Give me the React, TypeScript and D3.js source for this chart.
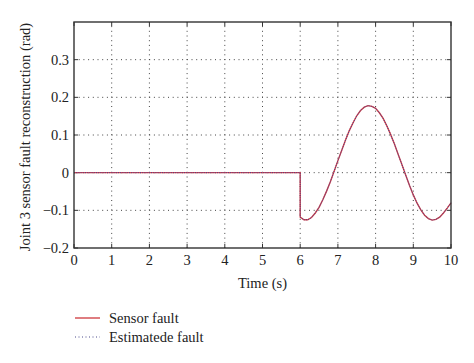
import * as d3 from 'd3';

// time axis (s) and fault values (rad)
const times = [
  0, 6, 6, 6.1, 6.2, 6.3, 6.4, 6.5, 6.6, 6.7, 6.8, 6.9, 7.0, 7.1, 7.2, 7.3, 7.4,
  7.5, 7.6, 7.7, 7.8, 7.9, 8.0, 8.1, 8.2, 8.3, 8.4, 8.5, 8.6, 8.7, 8.8, 8.9,
  9.0, 9.1, 9.2, 9.3, 9.4, 9.5, 9.6, 9.7, 9.8, 9.9, 10.0,
];
const sensorFault = [
  0, 0, -0.118, -0.125, -0.125, -0.119, -0.107, -0.092, -0.072, -0.049, -0.024,
  0.004, 0.032, 0.059, 0.086, 0.111, 0.132, 0.151, 0.165, 0.174, 0.178, 0.176,
  0.171, 0.159, 0.144, 0.124, 0.101, 0.076, 0.048, 0.021, -0.007, -0.034,
  -0.059, -0.081, -0.099, -0.113, -0.122, -0.126, -0.124, -0.118, -0.107,
  -0.094, -0.08,
];
const estimatedFault = [
  0, 0, -0.118, -0.125, -0.125, -0.119, -0.107, -0.092, -0.072, -0.049, -0.024,
  0.004, 0.032, 0.059, 0.086, 0.111, 0.132, 0.151, 0.165, 0.174, 0.178, 0.176,
  0.171, 0.159, 0.144, 0.124, 0.101, 0.076, 0.048, 0.021, -0.007, -0.034,
  -0.059, -0.081, -0.099, -0.113, -0.122, -0.126, -0.124, -0.118, -0.107,
  -0.094, -0.08,
];
const xTicks = [0, 1, 2, 3, 4, 5, 6, 7, 8, 9, 10];
const yTicks = [-0.2, -0.1, 0, 0.1, 0.2, 0.3];
const legendLabels = ['Sensor fault', 'Estimatede fault'];

const width = 474;
const height = 363;
const margin = { top: 22, right: 23, bottom: 115, left: 74 };
const font = '"Liberation Serif", "DejaVu Serif", serif';

export default function App() {
  const x = d3
    .scaleLinear()
    .domain([0, 10])
    .range([margin.left, width - margin.right]);
  const y = d3
    .scaleLinear()
    .domain([-0.2, 0.4])
    .range([height - margin.bottom, margin.top]);

  const line = d3
    .line<number>()
    .x((_, i) => x(times[i]))
    .y((d) => y(d));

  const x0 = x(0);
  const x1 = x(10);
  const y0 = y(-0.2);
  const y1 = y(0.4);
  const tickLen = 4;
  const fmt = (v: number) => (v === 0 ? '0' : d3.format('.1f')(v).replace('-', '\u2212'));

  return (
    <svg
      width={width}
      height={height}
      style={{ position: 'absolute', left: 0, top: 0, background: '#fff' }}
    >
      {/* grid */}
      <g stroke="#444" strokeWidth={1} strokeDasharray="1,3.7">
        {xTicks.slice(1, -1).map((t) => (
          <line key={'gx' + t} x1={x(t)} x2={x(t)} y1={y0} y2={y1} />
        ))}
        {yTicks.slice(1).map((t) => (
          <line key={'gy' + t} x1={x0} x2={x1} y1={y(t)} y2={y(t)} />
        ))}
      </g>

      {/* inner ticks on all sides */}
      <g stroke="#333" strokeWidth={1}>
        {xTicks.map((t) => (
          <g key={'tx' + t}>
            <line x1={x(t)} x2={x(t)} y1={y0} y2={y0 - tickLen} />
            <line x1={x(t)} x2={x(t)} y1={y1} y2={y1 + tickLen} />
          </g>
        ))}
        {yTicks.map((t) => (
          <g key={'ty' + t}>
            <line x1={x0} x2={x0 + tickLen} y1={y(t)} y2={y(t)} />
            <line x1={x1} x2={x1 - tickLen} y1={y(t)} y2={y(t)} />
          </g>
        ))}
      </g>

      {/* series */}
      <path d={line(sensorFault) ?? ''} fill="none" stroke="#d2454a" strokeWidth={1.4} />
      <path
        d={line(estimatedFault) ?? ''}
        fill="none"
        stroke="#4a3a8a"
        strokeWidth={1}
        strokeDasharray="1,1.2"
      />

      {/* frame */}
      <rect
        x={x0}
        y={y1}
        width={x1 - x0}
        height={y0 - y1}
        fill="none"
        stroke="#333"
        strokeWidth={1.4}
      />

      {/* tick labels */}
      <g fontFamily={font} fontSize={14.5} fill="#222">
        {xTicks.map((t) => (
          <text key={'lx' + t} x={x(t)} y={y0 + 17} textAnchor="middle">
            {t}
          </text>
        ))}
        {yTicks.map((t) => (
          <text key={'ly' + t} x={x0 - 5} y={y(t) + 5} textAnchor="end">
            {fmt(t)}
          </text>
        ))}
        <text x={(x0 + x1) / 2} y={y0 + 40} textAnchor="middle">
          Time (s)
        </text>
        <text
          transform={`translate(30, ${(y0 + y1) / 2 + 2}) rotate(-90)`}
          textAnchor="middle"
        >
          Joint 3 sensor fault reconstruction (rad)
        </text>
      </g>

      {/* legend */}
      <g fontFamily={font} fontSize={14.5} fill="#222">
        <line x1={75} x2={100} y1={318} y2={318} stroke="#d2454a" strokeWidth={1.4} />
        <text x={109} y={323}>
          {legendLabels[0]}
        </text>
        <line
          x1={75}
          x2={100}
          y1={337}
          y2={337}
          stroke="#4a4a8a"
          strokeWidth={1}
          strokeDasharray="1,2.5"
        />
        <text x={109} y={342}>
          {legendLabels[1]}
        </text>
      </g>
    </svg>
  );
}
